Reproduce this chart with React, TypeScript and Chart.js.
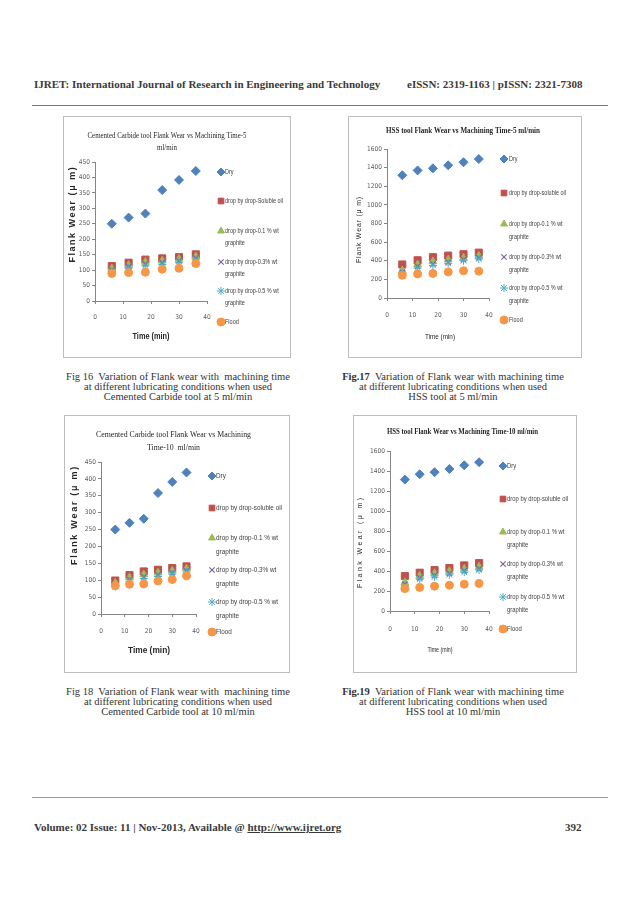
import React, { useEffect, useRef } from "react";
import { Chart, registerables } from "chart.js";
import { drawPoint } from "chart.js/helpers";

Chart.register(...registerables);

// ---------------- DATA ----------------
const timeMin = [6, 12, 18, 24, 30, 36];
const xTicks = [0, 10, 20, 30, 40];

const cc5Dry = [250, 270, 283, 359, 392, 421];
const cc5Soluble = [113, 124, 134, 138, 142, 151];
const cc5Gr01 = [105, 116, 126, 130, 136, 144];
const cc5Gr03 = [100, 111, 120, 124, 130, 139];
const cc5Gr05 = [96, 106, 114, 118, 124, 133];
const cc5Flood = [89, 92, 93, 103, 106, 121];

const hss5Dry = [1318, 1370, 1392, 1425, 1458, 1492];
const hss5Soluble = [360, 405, 438, 455, 470, 487];
const hss5Gr01 = [295, 360, 392, 412, 432, 452];
const hss5Gr03 = [275, 340, 365, 385, 412, 432];
const hss5Gr05 = [262, 322, 350, 372, 400, 420];
const hss5Flood = [244, 258, 264, 280, 292, 288];

const cc10Dry = [250, 270, 282, 358, 391, 419];
const cc10Soluble = [99, 115, 126, 131, 136, 141];
const cc10Gr01 = [92, 108, 117, 122, 128, 134];
const cc10Gr03 = [86, 102, 110, 116, 122, 128];
const cc10Gr05 = [81, 97, 105, 111, 118, 124];
const cc10Flood = [84, 88, 89, 98, 102, 113];

const hss10Dry = [1314, 1367, 1388, 1420, 1457, 1488];
const hss10Soluble = [349, 383, 409, 430, 456, 479];
const hss10Gr01 = [285, 350, 378, 398, 422, 442];
const hss10Gr03 = [268, 332, 356, 376, 402, 422];
const hss10Gr05 = [255, 318, 340, 362, 388, 410];
const hss10Flood = [224, 236, 248, 258, 268, 276];

const ccYTicks = [0, 50, 100, 150, 200, 250, 300, 350, 400, 450];
const hssYTicks = [0, 200, 400, 600, 800, 1000, 1200, 1400, 1600];

const legendCapital = [
  ["Dry"],
  ["drop by drop-Soluble oil"],
  ["drop by drop-0.1 % wt", "graphite"],
  ["drop by drop-0.3% wt", "graphite"],
  ["drop by drop-0.5 % wt", "graphite"],
  ["Flood"],
];
const legendLower = [
  ["Dry"],
  ["drop by drop-soluble oil"],
  ["drop by drop-0.1 % wt", "graphite"],
  ["drop by drop-0.3% wt", "graphite"],
  ["drop by drop-0.5 % wt", "graphite"],
  ["Flood"],
];

// ---------------- STYLES ----------------
const markers = [
  { style: "rectRot", radius: 4.5, color: "#4F81BD", bw: 1 },
  { style: "rect", radius: 5, color: "#C0504D", bw: 1 },
  { style: "triangle", radius: 4.5, color: "#9BBB59", bw: 1 },
  { style: "crossRot", radius: 3.8, color: "#8064A2", bw: 1.2 },
  { style: "star", radius: 4, color: "#4BACC6", bw: 1 },
  { style: "circle", radius: 4, color: "#F79646", bw: 1 },
];

const tickFamily = '"Liberation Sans Narrow", "DejaVu Sans Condensed", "Liberation Sans", sans-serif';
const axisColor = "#868686";

type Spec = {
  key: string;
  frame: { left: number; top: number; width: number; height: number };
  area: { left: number; top: number; right: number; bottom: number };
  yTicks: number[];
  series: number[][];
  legend: string[][];
  title: { lines: string[]; cx: number; ys: number[]; width: number; font: string };
  yTitle: { text: string; cx: number; cy: number; length: number; font: string };
  xTitle: { text: string; cx: number; cy: number; width: number; font: string };
  leg: { markerX: number; textX: number; ys: number[]; gap: number; refWidth: number };
  xPad: number;
};

const specs: Spec[] = [
  {
    key: "cc5",
    frame: { left: 63, top: 116, width: 228, height: 242 },
    area: { left: 31, top: 45, right: 143, bottom: 184 },
    yTicks: ccYTicks,
    series: [cc5Dry, cc5Soluble, cc5Gr01, cc5Gr03, cc5Gr05, cc5Flood],
    legend: legendCapital,
    title: { lines: ["Cemented Carbide tool Flank Wear vs Machining Time-5", "ml/min"], cx: 103, ys: [19, 31], width: 159, font: '8.5px "Liberation Serif"' },
    yTitle: { text: "Flank Wear (\u03bc m)", cx: 9, cy: 98, length: 95, font: 'bold 9px "Liberation Sans"' },
    xTitle: { text: "Time (min)", cx: 87, cy: 220, width: 37, font: 'bold 9px "Liberation Sans"' },
    leg: { markerX: 157, textX: 161, ys: [55, 84, 114, 145, 174, 205], gap: 12.5, refWidth: 58 },
    xPad: 9,
  },
  {
    key: "hss5",
    frame: { left: 348, top: 116, width: 234, height: 242 },
    area: { left: 38, top: 32, right: 140, bottom: 181 },
    yTicks: hssYTicks,
    series: [hss5Dry, hss5Soluble, hss5Gr01, hss5Gr03, hss5Gr05, hss5Flood],
    legend: legendLower,
    title: { lines: ["HSS tool Flank Wear vs Machining Time-5 ml/min"], cx: 114, ys: [14], width: 154, font: 'bold 8px "Liberation Serif"' },
    yTitle: { text: "Flank Wear (\u03bc m)", cx: 10, cy: 113, length: 66, font: '7px "Liberation Sans"' },
    xTitle: { text: "Time (min)", cx: 91, cy: 220, width: 30, font: '7px "Liberation Sans"' },
    leg: { markerX: 155, textX: 160, ys: [42, 76, 107, 140, 171, 203], gap: 13, refWidth: 57 },
    xPad: 10,
  },
  {
    key: "cc10",
    frame: { left: 64, top: 415, width: 226, height: 258 },
    area: { left: 36, top: 46, right: 131, bottom: 198 },
    yTicks: ccYTicks,
    series: [cc10Dry, cc10Soluble, cc10Gr01, cc10Gr03, cc10Gr05, cc10Flood],
    legend: legendLower,
    title: { lines: ["Cemented Carbide tool Flank Wear vs Machining", "Time-10  ml/min"], cx: 108.5, ys: [19, 32], width: 155, font: '8.5px "Liberation Serif"' },
    yTitle: { text: "Flank Wear (\u03bc m)", cx: 10, cy: 100, length: 98, font: 'bold 9px "Liberation Sans"' },
    xTitle: { text: "Time (min)", cx: 84, cy: 235, width: 42, font: 'bold 9px "Liberation Sans"' },
    leg: { markerX: 147, textX: 151, ys: [60, 92, 122, 154, 186, 216], gap: 14, refWidth: 66 },
    xPad: 10,
  },
  {
    key: "hss10",
    frame: { left: 353, top: 415, width: 224, height: 258 },
    area: { left: 36, top: 35, right: 135, bottom: 195 },
    yTicks: hssYTicks,
    series: [hss10Dry, hss10Soluble, hss10Gr01, hss10Gr03, hss10Gr05, hss10Flood],
    legend: legendLower,
    title: { lines: ["HSS tool Flank Wear vs Machining Time-10 ml/min"], cx: 108.5, ys: [16], width: 151, font: 'bold 8px "Liberation Serif"' },
    yTitle: { text: "Flank Wear (\u03bc m)", cx: 6, cy: 127, length: 90, font: '7px "Liberation Sans"' },
    xTitle: { text: "Time (min)", cx: 86, cy: 234, width: 25, font: '6.5px "Liberation Sans"' },
    leg: { markerX: 149, textX: 153, ys: [50, 83, 116, 148, 181, 213], gap: 13, refWidth: 61 },
    xPad: 11,
  },
];

// ---------------- DRAW HELPERS ----------------
function drawSpaced(ctx: CanvasRenderingContext2D, text: string, target: number) {
  const w = ctx.measureText(text).width;
  ctx.textAlign = "left";
  ctx.textBaseline = "middle";
  if (w >= target) {
    ctx.save();
    ctx.scale(target / w, 1);
    ctx.fillText(text, -w / 2, 0);
    ctx.restore();
    return;
  }
  const chars = Array.from(text);
  const sp = (target - w) / Math.max(1, chars.length - 1);
  let x = -target / 2;
  for (const c of chars) {
    ctx.fillText(c, x, 0);
    x += ctx.measureText(c).width + sp;
  }
}

function makeDecor(spec: Spec) {
  return {
    id: "decor-" + spec.key,
    afterDraw(chart: any) {
      const ctx: CanvasRenderingContext2D = chart.ctx;
      ctx.save();
      // chart title
      ctx.fillStyle = "#262626";
      ctx.font = spec.title.font;
      const tw = ctx.measureText(spec.title.lines[0]).width;
      const ts = Math.min(1.2, spec.title.width / tw);
      spec.title.lines.forEach((line, i) => {
        ctx.save();
        ctx.translate(spec.title.cx, spec.title.ys[i]);
        ctx.scale(ts, 1);
        ctx.textAlign = "center";
        ctx.textBaseline = "middle";
        ctx.fillText(line, 0, 0);
        ctx.restore();
      });
      // y axis title
      ctx.fillStyle = "#262626";
      ctx.font = spec.yTitle.font;
      ctx.save();
      ctx.translate(spec.yTitle.cx, spec.yTitle.cy);
      ctx.rotate(-Math.PI / 2);
      drawSpaced(ctx, spec.yTitle.text, spec.yTitle.length);
      ctx.restore();
      // x axis title
      ctx.font = spec.xTitle.font;
      ctx.save();
      ctx.translate(spec.xTitle.cx, spec.xTitle.cy);
      drawSpaced(ctx, spec.xTitle.text, spec.xTitle.width);
      ctx.restore();
      // legend
      ctx.font = '7px "Liberation Sans"';
      const lw = ctx.measureText(spec.legend[1][0]).width;
      const ls = spec.leg.refWidth / lw;
      chart.data.datasets.forEach((ds: any, i: number) => {
        const y = spec.leg.ys[i];
        ctx.fillStyle = ds.backgroundColor;
        ctx.strokeStyle = ds.borderColor;
        ctx.lineWidth = ds.borderWidth;
        drawPoint(ctx, { pointStyle: ds.pointStyle, rotation: 0, radius: Math.min(ds.pointRadius, 4), borderWidth: ds.borderWidth } as any, spec.leg.markerX, y);
        ctx.fillStyle = "#404040";
        ctx.textAlign = "left";
        ctx.textBaseline = "middle";
        spec.legend[i].forEach((line, k) => {
          ctx.save();
          ctx.translate(spec.leg.textX, y + k * spec.leg.gap);
          ctx.scale(ls, 1);
          ctx.fillText(line, 0, 0);
          ctx.restore();
        });
      });
      ctx.restore();
    },
  };
}

function buildConfig(spec: Spec, width: number, height: number): any {
  const seriesNames = spec.legend.map((l) => l.join(" "));
  const tickFont = { family: tickFamily, size: 6.5 };
  return {
    type: "scatter",
    data: {
      datasets: spec.series.map((vals, i) => ({
        label: seriesNames[i],
        data: timeMin.map((x, j) => ({ x, y: vals[j] })),
        pointStyle: markers[i].style,
        pointRadius: markers[i].radius,
        backgroundColor: markers[i].color,
        borderColor: markers[i].color,
        borderWidth: markers[i].bw,
        showLine: false,
        order: 10 - i,
      })),
    },
    options: {
      responsive: false,
      animation: false,
      devicePixelRatio: 1,
      events: [],
      layout: {
        padding: { top: spec.area.top, right: width - spec.area.right, left: 0, bottom: 0 },
      },
      plugins: {
        legend: { display: false },
        title: { display: false },
        tooltip: { enabled: false },
      },
      scales: {
        x: {
          type: "linear",
          min: xTicks[0],
          max: xTicks[xTicks.length - 1],
          afterBuildTicks: (s: any) => {
            s.ticks = xTicks.map((v) => ({ value: v }));
          },
          ticks: { font: tickFont, color: "#595959", padding: spec.xPad, maxRotation: 0, callback: (v: any) => String(v) },
          grid: { display: true, drawOnChartArea: false, drawTicks: true, tickLength: 3, color: axisColor },
          border: { display: true, color: axisColor },
          afterFit: (s: any) => {
            s.height = height - spec.area.bottom;
          },
        },
        y: {
          type: "linear",
          min: spec.yTicks[0],
          max: spec.yTicks[spec.yTicks.length - 1],
          afterBuildTicks: (s: any) => {
            s.ticks = spec.yTicks.map((v) => ({ value: v }));
          },
          ticks: { font: tickFont, color: "#595959", padding: 2, callback: (v: any) => String(v) },
          grid: { display: true, drawOnChartArea: false, drawTicks: true, tickLength: 3, color: axisColor },
          border: { display: true, color: axisColor },
          afterFit: (s: any) => {
            s.width = spec.area.left;
          },
        },
      },
    },
    plugins: [makeDecor(spec)],
  };
}

function Panel({ spec }: { spec: Spec }) {
  const ref = useRef<HTMLCanvasElement>(null);
  const w = spec.frame.width - 2;
  const h = spec.frame.height - 2;
  useEffect(() => {
    if (!ref.current) return;
    const chart = new Chart(ref.current, buildConfig(spec, w, h));
    return () => chart.destroy();
  }, [spec]);
  return (
    <div
      style={{
        position: "absolute",
        left: spec.frame.left,
        top: spec.frame.top,
        width: spec.frame.width,
        height: spec.frame.height,
        border: "1px solid #BDBDBD",
        boxSizing: "border-box",
        background: "#fff",
      }}
    >
      <canvas ref={ref} width={w} height={h} style={{ display: "block", width: w, height: h }} />
    </div>
  );
}

const serif = '"Liberation Serif", "Times New Roman", serif';

function Caption({ cx, top, lines, boldPrefix }: { cx: number; top: number; lines: string[]; boldPrefix?: string }) {
  return (
    <div
      style={{
        position: "absolute",
        left: cx - 160,
        top,
        width: 320,
        textAlign: "center",
        fontFamily: serif,
        fontSize: 10.5,
        lineHeight: "10.2px",
        color: "#333",
        whiteSpace: "pre",
      }}
    >
      {lines.map((l, i) => (
        <div key={i}>
          {i === 0 && boldPrefix ? <b>{boldPrefix}</b> : null}
          {l}
        </div>
      ))}
    </div>
  );
}

export default function App() {
  const txt: React.CSSProperties = {
    position: "absolute",
    fontFamily: serif,
    fontWeight: "bold",
    fontSize: 11,
    lineHeight: "13px",
    color: "#3a3a3a",
    whiteSpace: "pre",
  };
  return (
    <div style={{ position: "absolute", left: 0, top: 0, width: 638, height: 903, background: "#fff", overflow: "hidden" }}>
      <div style={{ ...txt, left: 34, top: 78 }}>IJRET: International Journal of Research in Engineering and Technology</div>
      <div style={{ ...txt, left: 407, top: 78 }}>eISSN: 2319-1163 | pISSN: 2321-7308</div>
      <div style={{ position: "absolute", left: 32, top: 105, width: 576, borderTop: "1px solid #777" }} />

      {specs.map((s) => (
        <Panel key={s.key} spec={s} />
      ))}

      <Caption
        cx={178}
        top={372}
        lines={["Fig 16  Variation of Flank wear with  machining time", "at different lubricating conditions when used", "Cemented Carbide tool at 5 ml/min"]}
      />
      <Caption
        cx={453}
        top={372}
        boldPrefix="Fig.17"
        lines={["  Variation of Flank wear with machining time", "at different lubricating conditions when used", "HSS tool at 5 ml/min"]}
      />
      <Caption
        cx={178}
        top={687}
        lines={["Fig 18  Variation of Flank wear with  machining time", "at different lubricating conditions when used", "Cemented Carbide tool at 10 ml/min"]}
      />
      <Caption
        cx={453}
        top={687}
        boldPrefix="Fig.19"
        lines={["  Variation of Flank wear with machining time", "at different lubricating conditions when used", "HSS tool at 10 ml/min"]}
      />

      <div style={{ position: "absolute", left: 32, top: 797, width: 576, borderTop: "1px solid #999" }} />
      <div style={{ ...txt, left: 34, top: 821 }}>
        Volume: 02 Issue: 11 | Nov-2013, Available @ <span style={{ textDecoration: "underline" }}>http://www.ijret.org</span>
      </div>
      <div style={{ ...txt, left: 565, top: 821 }}>392</div>
    </div>
  );
}
